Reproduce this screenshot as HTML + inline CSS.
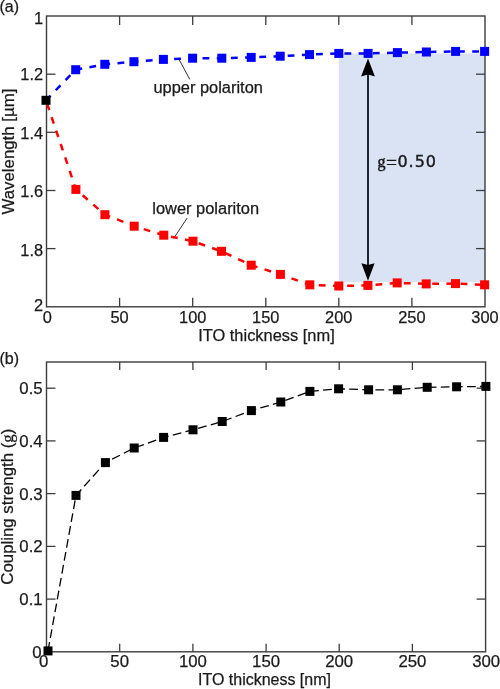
<!DOCTYPE html>
<html><head><meta charset="utf-8"><style>html,body{margin:0;padding:0;background:#fff;width:500px;height:689px;overflow:hidden}svg{display:block}</style></head><body>
<svg width="500" height="689" viewBox="0 0 500 689">
<rect width="500" height="689" fill="#ffffff"/>
<rect x="338.8" y="53.5" width="146.2" height="228.5" fill="#d9e3f3"/>
<rect x="46.5" y="16.0" width="438.5" height="290.8" fill="none" stroke="#3c3c3c" stroke-width="1.4"/><line x1="46.5" y1="74.2" x2="55.5" y2="74.2" stroke="#3c3c3c" stroke-width="1.3"/><line x1="485.0" y1="74.2" x2="476.0" y2="74.2" stroke="#3c3c3c" stroke-width="1.3"/><line x1="46.5" y1="132.3" x2="55.5" y2="132.3" stroke="#3c3c3c" stroke-width="1.3"/><line x1="485.0" y1="132.3" x2="476.0" y2="132.3" stroke="#3c3c3c" stroke-width="1.3"/><line x1="46.5" y1="190.5" x2="55.5" y2="190.5" stroke="#3c3c3c" stroke-width="1.3"/><line x1="485.0" y1="190.5" x2="476.0" y2="190.5" stroke="#3c3c3c" stroke-width="1.3"/><line x1="46.5" y1="248.6" x2="55.5" y2="248.6" stroke="#3c3c3c" stroke-width="1.3"/><line x1="485.0" y1="248.6" x2="476.0" y2="248.6" stroke="#3c3c3c" stroke-width="1.3"/><line x1="119.6" y1="16.0" x2="119.6" y2="25.0" stroke="#3c3c3c" stroke-width="1.3"/><line x1="119.6" y1="306.8" x2="119.6" y2="297.8" stroke="#3c3c3c" stroke-width="1.3"/><line x1="192.7" y1="16.0" x2="192.7" y2="25.0" stroke="#3c3c3c" stroke-width="1.3"/><line x1="192.7" y1="306.8" x2="192.7" y2="297.8" stroke="#3c3c3c" stroke-width="1.3"/><line x1="265.8" y1="16.0" x2="265.8" y2="25.0" stroke="#3c3c3c" stroke-width="1.3"/><line x1="265.8" y1="306.8" x2="265.8" y2="297.8" stroke="#3c3c3c" stroke-width="1.3"/><line x1="338.8" y1="16.0" x2="338.8" y2="25.0" stroke="#3c3c3c" stroke-width="1.3"/><line x1="338.8" y1="306.8" x2="338.8" y2="297.8" stroke="#3c3c3c" stroke-width="1.3"/><line x1="411.9" y1="16.0" x2="411.9" y2="25.0" stroke="#3c3c3c" stroke-width="1.3"/><line x1="411.9" y1="306.8" x2="411.9" y2="297.8" stroke="#3c3c3c" stroke-width="1.3"/>
<rect x="46.5" y="362.0" width="439.1" height="289.8" fill="none" stroke="#3c3c3c" stroke-width="1.4"/><line x1="46.5" y1="599.1" x2="55.5" y2="599.1" stroke="#3c3c3c" stroke-width="1.3"/><line x1="485.6" y1="599.1" x2="476.6" y2="599.1" stroke="#3c3c3c" stroke-width="1.3"/><line x1="46.5" y1="546.4" x2="55.5" y2="546.4" stroke="#3c3c3c" stroke-width="1.3"/><line x1="485.6" y1="546.4" x2="476.6" y2="546.4" stroke="#3c3c3c" stroke-width="1.3"/><line x1="46.5" y1="493.6" x2="55.5" y2="493.6" stroke="#3c3c3c" stroke-width="1.3"/><line x1="485.6" y1="493.6" x2="476.6" y2="493.6" stroke="#3c3c3c" stroke-width="1.3"/><line x1="46.5" y1="440.9" x2="55.5" y2="440.9" stroke="#3c3c3c" stroke-width="1.3"/><line x1="485.6" y1="440.9" x2="476.6" y2="440.9" stroke="#3c3c3c" stroke-width="1.3"/><line x1="46.5" y1="388.2" x2="55.5" y2="388.2" stroke="#3c3c3c" stroke-width="1.3"/><line x1="485.6" y1="388.2" x2="476.6" y2="388.2" stroke="#3c3c3c" stroke-width="1.3"/><line x1="119.7" y1="362.0" x2="119.7" y2="370.0" stroke="#3c3c3c" stroke-width="1.3"/><line x1="119.7" y1="651.8" x2="119.7" y2="643.8" stroke="#3c3c3c" stroke-width="1.3"/><line x1="192.9" y1="362.0" x2="192.9" y2="370.0" stroke="#3c3c3c" stroke-width="1.3"/><line x1="192.9" y1="651.8" x2="192.9" y2="643.8" stroke="#3c3c3c" stroke-width="1.3"/><line x1="266.1" y1="362.0" x2="266.1" y2="370.0" stroke="#3c3c3c" stroke-width="1.3"/><line x1="266.1" y1="651.8" x2="266.1" y2="643.8" stroke="#3c3c3c" stroke-width="1.3"/><line x1="339.2" y1="362.0" x2="339.2" y2="370.0" stroke="#3c3c3c" stroke-width="1.3"/><line x1="339.2" y1="651.8" x2="339.2" y2="643.8" stroke="#3c3c3c" stroke-width="1.3"/><line x1="412.4" y1="362.0" x2="412.4" y2="370.0" stroke="#3c3c3c" stroke-width="1.3"/><line x1="412.4" y1="651.8" x2="412.4" y2="643.8" stroke="#3c3c3c" stroke-width="1.3"/>
<polyline points="46.0,100.3 75.7,69.7 104.8,64.3 133.9,61.7 163.4,59.4 192.6,58.2 221.8,58.2 251.2,57.4 280.2,56.2 309.5,54.6 338.8,53.4 368.1,53.4 397.4,52.6 426.4,52.0 455.6,51.4 484.6,51.4" fill="none" stroke="#0000ff" stroke-width="2.5" stroke-dasharray="6.8,7.4" stroke-dashoffset="0.2"/>
<polyline points="46.0,100.3 75.9,189.4 104.9,214.7 134.2,226.2 163.8,235.2 193.0,241.2 221.5,251.3 251.2,265.2 280.4,274.4 309.8,284.8 338.8,286.0 367.9,285.4 397.2,282.9 426.2,283.9 455.5,283.6 484.6,284.8" fill="none" stroke="#ff0000" stroke-width="2.5" stroke-dasharray="6.8,7.4" stroke-dashoffset="10.7"/>
<rect x="71.2" y="65.2" width="9" height="9" fill="#0000ff"/><rect x="100.3" y="59.8" width="9" height="9" fill="#0000ff"/><rect x="129.4" y="57.2" width="9" height="9" fill="#0000ff"/><rect x="158.9" y="54.9" width="9" height="9" fill="#0000ff"/><rect x="188.1" y="53.7" width="9" height="9" fill="#0000ff"/><rect x="217.3" y="53.7" width="9" height="9" fill="#0000ff"/><rect x="246.7" y="52.9" width="9" height="9" fill="#0000ff"/><rect x="275.7" y="51.7" width="9" height="9" fill="#0000ff"/><rect x="305.0" y="50.1" width="9" height="9" fill="#0000ff"/><rect x="334.3" y="48.9" width="9" height="9" fill="#0000ff"/><rect x="363.6" y="48.9" width="9" height="9" fill="#0000ff"/><rect x="392.9" y="48.1" width="9" height="9" fill="#0000ff"/><rect x="421.9" y="47.5" width="9" height="9" fill="#0000ff"/><rect x="451.1" y="46.9" width="9" height="9" fill="#0000ff"/><rect x="480.1" y="46.9" width="9" height="9" fill="#0000ff"/>
<rect x="71.4" y="184.9" width="9" height="9" fill="#ff0000"/><rect x="100.4" y="210.2" width="9" height="9" fill="#ff0000"/><rect x="129.7" y="221.7" width="9" height="9" fill="#ff0000"/><rect x="159.3" y="230.7" width="9" height="9" fill="#ff0000"/><rect x="188.5" y="236.7" width="9" height="9" fill="#ff0000"/><rect x="217.0" y="246.8" width="9" height="9" fill="#ff0000"/><rect x="246.7" y="260.7" width="9" height="9" fill="#ff0000"/><rect x="275.9" y="269.9" width="9" height="9" fill="#ff0000"/><rect x="305.3" y="280.3" width="9" height="9" fill="#ff0000"/><rect x="334.3" y="281.5" width="9" height="9" fill="#ff0000"/><rect x="363.4" y="280.9" width="9" height="9" fill="#ff0000"/><rect x="392.7" y="278.4" width="9" height="9" fill="#ff0000"/><rect x="421.7" y="279.4" width="9" height="9" fill="#ff0000"/><rect x="451.0" y="279.1" width="9" height="9" fill="#ff0000"/><rect x="480.1" y="280.3" width="9" height="9" fill="#ff0000"/>
<rect x="41.5" y="95.8" width="9" height="9" fill="#000000"/>
<polyline points="48.0,650.9 76.0,495.4 105.4,462.6 134.2,448.0 163.6,437.4 193.0,429.8 222.2,421.5 251.4,410.6 280.8,402.0 309.9,391.4 338.6,388.8 368.6,389.8 397.4,389.8 427.2,387.3 456.6,386.8 485.9,386.4" fill="none" stroke="#000000" stroke-width="1.3" stroke-dasharray="8.8,4.3"/>
<rect x="43.5" y="646.4" width="9" height="9" fill="#000000"/><rect x="71.5" y="490.9" width="9" height="9" fill="#000000"/><rect x="100.9" y="458.1" width="9" height="9" fill="#000000"/><rect x="129.7" y="443.5" width="9" height="9" fill="#000000"/><rect x="159.1" y="432.9" width="9" height="9" fill="#000000"/><rect x="188.5" y="425.3" width="9" height="9" fill="#000000"/><rect x="217.7" y="417.0" width="9" height="9" fill="#000000"/><rect x="246.9" y="406.1" width="9" height="9" fill="#000000"/><rect x="276.3" y="397.5" width="9" height="9" fill="#000000"/><rect x="305.4" y="386.9" width="9" height="9" fill="#000000"/><rect x="334.1" y="384.3" width="9" height="9" fill="#000000"/><rect x="364.1" y="385.3" width="9" height="9" fill="#000000"/><rect x="392.9" y="385.3" width="9" height="9" fill="#000000"/><rect x="422.7" y="382.8" width="9" height="9" fill="#000000"/><rect x="452.1" y="382.3" width="9" height="9" fill="#000000"/><rect x="481.4" y="381.9" width="9" height="9" fill="#000000"/>
<line x1="368.0" y1="72" x2="368.0" y2="266" stroke="#1c252c" stroke-width="2"/>
<path d="M368.0,58.4 L374.9,76.4 L368.0,74.6 L361.1,76.4 Z" fill="#000"/>
<path d="M368.0,280.8 L374.6,263.2 L368.0,265 L361.4,263.2 Z" fill="#000"/>
<line x1="179.2" y1="59.8" x2="189.8" y2="79.4" stroke="#333" stroke-width="1"/>
<line x1="175.0" y1="236.4" x2="187.2" y2="218.0" stroke="#333" stroke-width="1"/>
<text x="-0.6" y="11.6" font-family="Liberation Sans, Arial, sans-serif" font-size="16" fill="#1a1a1a" stroke="#1a1a1a" stroke-width="0.25" text-anchor="start" >(a)</text>
<text x="-0.6" y="363.6" font-family="Liberation Sans, Arial, sans-serif" font-size="16" fill="#1a1a1a" stroke="#1a1a1a" stroke-width="0.25" text-anchor="start" >(b)</text>
<text x="43.1" y="23.7" font-family="Liberation Sans, Arial, sans-serif" font-size="16.4" fill="#1a1a1a" stroke="#1a1a1a" stroke-width="0.25" text-anchor="end" >1</text>
<text x="43.1" y="80.2" font-family="Liberation Sans, Arial, sans-serif" font-size="16.4" fill="#1a1a1a" stroke="#1a1a1a" stroke-width="0.25" text-anchor="end" >1.2</text>
<text x="43.1" y="138.9" font-family="Liberation Sans, Arial, sans-serif" font-size="16.4" fill="#1a1a1a" stroke="#1a1a1a" stroke-width="0.25" text-anchor="end" >1.4</text>
<text x="43.1" y="197.4" font-family="Liberation Sans, Arial, sans-serif" font-size="16.4" fill="#1a1a1a" stroke="#1a1a1a" stroke-width="0.25" text-anchor="end" >1.6</text>
<text x="43.1" y="255.5" font-family="Liberation Sans, Arial, sans-serif" font-size="16.4" fill="#1a1a1a" stroke="#1a1a1a" stroke-width="0.25" text-anchor="end" >1.8</text>
<text x="43.1" y="310.9" font-family="Liberation Sans, Arial, sans-serif" font-size="16.4" fill="#1a1a1a" stroke="#1a1a1a" stroke-width="0.25" text-anchor="end" >2</text>
<text x="47.3" y="322.6" font-family="Liberation Sans, Arial, sans-serif" font-size="16.4" fill="#1a1a1a" stroke="#1a1a1a" stroke-width="0.25" text-anchor="middle" >0</text>
<text x="119.6" y="322.6" font-family="Liberation Sans, Arial, sans-serif" font-size="16.4" fill="#1a1a1a" stroke="#1a1a1a" stroke-width="0.25" text-anchor="middle" >50</text>
<text x="192.7" y="322.6" font-family="Liberation Sans, Arial, sans-serif" font-size="16.4" fill="#1a1a1a" stroke="#1a1a1a" stroke-width="0.25" text-anchor="middle" >100</text>
<text x="265.8" y="322.6" font-family="Liberation Sans, Arial, sans-serif" font-size="16.4" fill="#1a1a1a" stroke="#1a1a1a" stroke-width="0.25" text-anchor="middle" >150</text>
<text x="338.8" y="322.6" font-family="Liberation Sans, Arial, sans-serif" font-size="16.4" fill="#1a1a1a" stroke="#1a1a1a" stroke-width="0.25" text-anchor="middle" >200</text>
<text x="411.9" y="322.6" font-family="Liberation Sans, Arial, sans-serif" font-size="16.4" fill="#1a1a1a" stroke="#1a1a1a" stroke-width="0.25" text-anchor="middle" >250</text>
<text x="485.0" y="322.6" font-family="Liberation Sans, Arial, sans-serif" font-size="16.4" fill="#1a1a1a" stroke="#1a1a1a" stroke-width="0.25" text-anchor="middle" >300</text>
<text x="198.2" y="340.6" font-family="Liberation Sans, Arial, sans-serif" font-size="16" fill="#1a1a1a" stroke="#1a1a1a" stroke-width="0.25" text-anchor="start" textLength="136.5" lengthAdjust="spacingAndGlyphs">ITO thickness [nm]</text>
<text x="0" y="0" font-family="Liberation Sans, Arial, sans-serif" font-size="16" fill="#1a1a1a" stroke="#1a1a1a" stroke-width="0.25" text-anchor="start" transform="translate(13.8,214.5) rotate(-90)" textLength="125.8" lengthAdjust="spacingAndGlyphs">Wavelength [µm]</text>
<text x="153.4" y="92.8" font-family="Liberation Sans, Arial, sans-serif" font-size="16" fill="#1a1a1a" stroke="#1a1a1a" stroke-width="0.25" text-anchor="start" textLength="109.5" lengthAdjust="spacingAndGlyphs">upper polariton</text>
<text x="152.29999999999998" y="213.5" font-family="Liberation Sans, Arial, sans-serif" font-size="16" fill="#1a1a1a" stroke="#1a1a1a" stroke-width="0.25" text-anchor="start" textLength="106.8" lengthAdjust="spacingAndGlyphs">lower polariton</text>
<text x="377.5" y="167.1" fill="#1a1a1a" stroke="#1a1a1a" stroke-width="0.3" font-size="16"><tspan font-family="Liberation Serif, serif" stroke-width="0.5">g</tspan><tspan font-family="Liberation Serif, serif" font-size="19.5" dx="0.6" dy="1.9">=</tspan><tspan font-family="DejaVu Sans, sans-serif" letter-spacing="1" dx="0.3" dy="-1.9" stroke="#1a1a1a" stroke-width="0.4">0.50</tspan></text>
<text x="41.5" y="657.7" font-family="Liberation Sans, Arial, sans-serif" font-size="16.8" fill="#1a1a1a" stroke="#1a1a1a" stroke-width="0.25" text-anchor="end" >0</text>
<text x="42.7" y="605.0" font-family="Liberation Sans, Arial, sans-serif" font-size="16.8" fill="#1a1a1a" stroke="#1a1a1a" stroke-width="0.25" text-anchor="end" >0.1</text>
<text x="42.7" y="552.3" font-family="Liberation Sans, Arial, sans-serif" font-size="16.8" fill="#1a1a1a" stroke="#1a1a1a" stroke-width="0.25" text-anchor="end" >0.2</text>
<text x="42.7" y="499.5" font-family="Liberation Sans, Arial, sans-serif" font-size="16.8" fill="#1a1a1a" stroke="#1a1a1a" stroke-width="0.25" text-anchor="end" >0.3</text>
<text x="42.7" y="446.8" font-family="Liberation Sans, Arial, sans-serif" font-size="16.8" fill="#1a1a1a" stroke="#1a1a1a" stroke-width="0.25" text-anchor="end" >0.4</text>
<text x="42.7" y="394.1" font-family="Liberation Sans, Arial, sans-serif" font-size="16.8" fill="#1a1a1a" stroke="#1a1a1a" stroke-width="0.25" text-anchor="end" >0.5</text>
<text x="43.7" y="667.3" font-family="Liberation Sans, Arial, sans-serif" font-size="16.8" fill="#1a1a1a" stroke="#1a1a1a" stroke-width="0.25" text-anchor="middle" >0</text>
<text x="119.7" y="667.3" font-family="Liberation Sans, Arial, sans-serif" font-size="16.8" fill="#1a1a1a" stroke="#1a1a1a" stroke-width="0.25" text-anchor="middle" >50</text>
<text x="192.9" y="667.3" font-family="Liberation Sans, Arial, sans-serif" font-size="16.8" fill="#1a1a1a" stroke="#1a1a1a" stroke-width="0.25" text-anchor="middle" >100</text>
<text x="266.1" y="667.3" font-family="Liberation Sans, Arial, sans-serif" font-size="16.8" fill="#1a1a1a" stroke="#1a1a1a" stroke-width="0.25" text-anchor="middle" >150</text>
<text x="339.2" y="667.3" font-family="Liberation Sans, Arial, sans-serif" font-size="16.8" fill="#1a1a1a" stroke="#1a1a1a" stroke-width="0.25" text-anchor="middle" >200</text>
<text x="412.4" y="667.3" font-family="Liberation Sans, Arial, sans-serif" font-size="16.8" fill="#1a1a1a" stroke="#1a1a1a" stroke-width="0.25" text-anchor="middle" >250</text>
<text x="486.2" y="667.3" font-family="Liberation Sans, Arial, sans-serif" font-size="16.8" fill="#1a1a1a" stroke="#1a1a1a" stroke-width="0.25" text-anchor="middle" >300</text>
<text x="198.1" y="685.1" font-family="Liberation Sans, Arial, sans-serif" font-size="16" fill="#1a1a1a" stroke="#1a1a1a" stroke-width="0.25" text-anchor="start" textLength="132.8" lengthAdjust="spacingAndGlyphs">ITO thickness [nm]</text>
<text x="0" y="0" font-family="Liberation Sans, Arial, sans-serif" font-size="16" fill="#1a1a1a" stroke="#1a1a1a" stroke-width="0.25" text-anchor="start" transform="translate(12.5,584.7) rotate(-90)" textLength="156" lengthAdjust="spacingAndGlyphs">Coupling strength (<tspan font-family="Liberation Serif, serif">g</tspan>)</text>
</svg>
</body></html>
